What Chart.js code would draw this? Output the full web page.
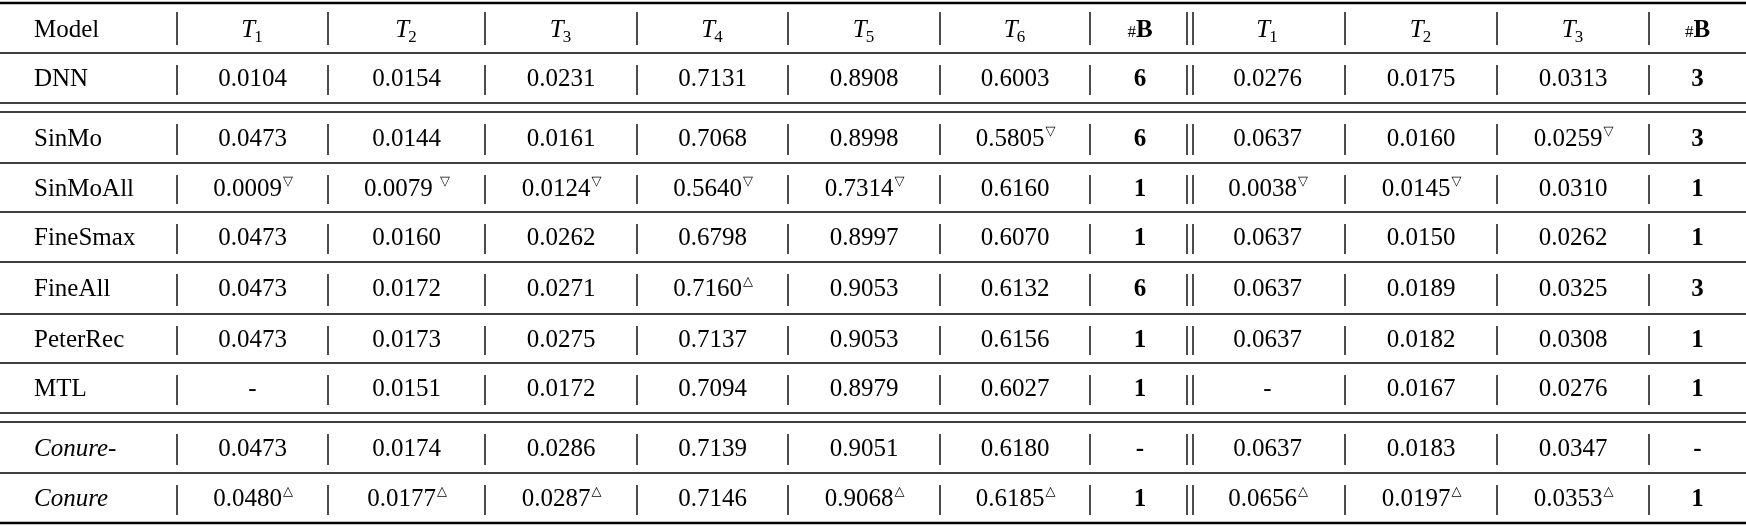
<!DOCTYPE html>
<html>
<head>
<meta charset="utf-8">
<script src="https://cdn.jsdelivr.net/npm/chart.js@4"></script>
<style>
  body { margin: 0; background: #fff; }
</style>
</head>
<body>
<canvas id="myChart" width="1746" height="526"></canvas>
<script>
// table contents ('v' = down marker, '^' = up marker, ' v' = spaced marker)
let models = ['DNN', 'SinMo', 'SinMoAll', 'FineSmax', 'FineAll', 'PeterRec', 'MTL', 'Conure-', 'Conure'];
let italicModels = ['Conure-', 'Conure'];
let headers = ['T1', 'T2', 'T3', 'T4', 'T5', 'T6', '#B', 'T1', 'T2', 'T3', '#B'];

let t1a = ['0.0104', '0.0473', '0.0009v', '0.0473', '0.0473', '0.0473', '-', '0.0473', '0.0480^'];
let t2a = ['0.0154', '0.0144', '0.0079 v', '0.0160', '0.0172', '0.0173', '0.0151', '0.0174', '0.0177^'];
let t3a = ['0.0231', '0.0161', '0.0124v', '0.0262', '0.0271', '0.0275', '0.0172', '0.0286', '0.0287^'];
let t4a = ['0.7131', '0.7068', '0.5640v', '0.6798', '0.7160^', '0.7137', '0.7094', '0.7139', '0.7146'];
let t5a = ['0.8908', '0.8998', '0.7314v', '0.8997', '0.9053', '0.9053', '0.8979', '0.9051', '0.9068^'];
let t6a = ['0.6003', '0.5805v', '0.6160', '0.6070', '0.6132', '0.6156', '0.6027', '0.6180', '0.6185^'];
let bestA = ['6', '6', '1', '1', '6', '1', '1', '-', '1'];
let t1b = ['0.0276', '0.0637', '0.0038v', '0.0637', '0.0637', '0.0637', '-', '0.0637', '0.0656^'];
let t2b = ['0.0175', '0.0160', '0.0145v', '0.0150', '0.0189', '0.0182', '0.0167', '0.0183', '0.0197^'];
let t3b = ['0.0313', '0.0259v', '0.0310', '0.0262', '0.0325', '0.0308', '0.0276', '0.0347', '0.0353^'];
let bestB = ['3', '3', '1', '1', '3', '1', '1', '-', '1'];

let columns = [t1a, t2a, t3a, t4a, t5a, t6a, bestA, t1b, t2b, t3b, bestB];

// layout (in scale units = pixels)
let colLines = [177, 328, 485, 637, 788, 940, 1090, 1190, 1345, 1497, 1649, 1746];
let rowBoxes = [[0, 53], [53, 103], [112, 163], [163, 212], [212, 262], [262, 314], [314, 363], [363, 413], [422, 473], [473, 523]];
let hLines = [[3, 2.5], [53, 1.5], [103, 1.5], [112, 1.5], [163, 1.5], [212, 1.5], [262, 1.5], [314, 1.5], [363, 1.5], [413, 1.5], [422, 1.5], [473, 1.5], [523, 2.5]];
let SERIF = '"Liberation Serif", "DejaVu Serif", serif';

let tablePlugin = {
    id: 'table',
    afterDraw(chart) {
        let ctx = chart.ctx;
        let x = chart.scales.x, y = chart.scales.y;
        ctx.save();
        ctx.strokeStyle = '#000';
        ctx.fillStyle = '#000';
        hLines.forEach(([v, w]) => {
            ctx.lineWidth = w;
            ctx.beginPath();
            ctx.moveTo(x.getPixelForValue(0), y.getPixelForValue(v));
            ctx.lineTo(x.getPixelForValue(1746), y.getPixelForValue(v));
            ctx.stroke();
        });
        // vertical separators
        ctx.lineWidth = 1.4;
        rowBoxes.forEach(([t, b]) => {
            for (let i = 0; i < colLines.length - 1; i++) {
                let offs = i === 7 ? [-3, 3] : [0];
                offs.forEach(o => {
                    ctx.beginPath();
                    ctx.moveTo(x.getPixelForValue(colLines[i] + o), y.getPixelForValue(t + 12));
                    ctx.lineTo(x.getPixelForValue(colLines[i] + o), y.getPixelForValue(b - 8));
                    ctx.stroke();
                });
            }
        });
        ctx.textBaseline = 'alphabetic';
        let size = 25;
        function cellText(str, cx, cy, bold) {
            let mark = '';
            if (str.endsWith('v') || str.endsWith('^')) {
                mark = str.slice(-1) === 'v' ? '\u25BD' : '\u25B3';
                str = str.slice(0, -1);
            }
            ctx.font = (bold ? 'bold ' : '') + size + 'px ' + SERIF;
            let w1 = ctx.measureText(str).width;
            ctx.font = '13px ' + SERIF;
            let w2 = mark ? ctx.measureText(mark).width : 0;
            let sx = cx - (w1 + w2) / 2;
            ctx.font = (bold ? 'bold ' : '') + size + 'px ' + SERIF;
            ctx.textAlign = 'left';
            ctx.fillText(str, sx, cy + 8);
            if (mark) {
                ctx.font = '13px ' + SERIF;
                ctx.fillText(mark, sx + w1 + 1, cy - 3);
            }
        }
        function headText(h, cx, cy) {
            if (h === '#B') {
                ctx.font = '17px ' + SERIF;
                let w1 = ctx.measureText('#').width;
                ctx.font = 'bold 25px ' + SERIF;
                let w2 = ctx.measureText('B').width;
                let sx = cx - (w1 + w2) / 2;
                ctx.textAlign = 'left';
                ctx.font = '17px ' + SERIF;
                ctx.fillText('#', sx, cy + 8);
                ctx.font = 'bold 25px ' + SERIF;
                ctx.fillText('B', sx + w1, cy + 8);
            } else {
                ctx.font = 'italic 25px ' + SERIF;
                let w1 = ctx.measureText('T').width;
                ctx.font = '17px ' + SERIF;
                let w2 = ctx.measureText(h[1]).width;
                let sx = cx - (w1 + w2) / 2;
                ctx.textAlign = 'left';
                ctx.font = 'italic 25px ' + SERIF;
                ctx.fillText('T', sx, cy + 8);
                ctx.font = '17px ' + SERIF;
                ctx.fillText(h[1], sx + w1 - 1, cy + 13);
            }
        }
        let cyOf = r => y.getPixelForValue((rowBoxes[r][0] + rowBoxes[r][1]) / 2 + (r === 0 ? 2 : 0));
        // header
        ctx.textAlign = 'left';
        ctx.font = '25px ' + SERIF;
        ctx.fillText('Model', x.getPixelForValue(34), cyOf(0) + 8);
        headers.forEach((h, i) => {
            let cx = x.getPixelForValue((colLines[i] + colLines[i + 1]) / 2);
            headText(h, cx, cyOf(0));
        });
        // rows
        models.forEach((m, r) => {
            let cy = cyOf(r + 1);
            ctx.textAlign = 'left';
            ctx.font = (italicModels.includes(m) ? 'italic ' : '') + '25px ' + SERIF;
            ctx.fillText(m, x.getPixelForValue(34), cy + 8);
            columns.forEach((col, i) => {
                let cx = x.getPixelForValue((colLines[i] + colLines[i + 1]) / 2);
                cellText(col[r], cx, cy, headers[i] === '#B');
            });
        });
        ctx.restore();
    }
};

new Chart(document.getElementById('myChart').getContext('2d'), {
    type: 'scatter',
    data: { datasets: [{ data: [] }] },
    options: {
        responsive: false,
        animation: false,
        devicePixelRatio: 1,
        layout: { padding: 0 },
        plugins: { legend: { display: false }, tooltip: { enabled: false } },
        scales: {
            x: { type: 'linear', min: 0, max: 1746, display: false },
            y: { type: 'linear', min: 0, max: 526, reverse: true, display: false }
        }
    },
    plugins: [tablePlugin]
});
</script>
</body>
</html>
